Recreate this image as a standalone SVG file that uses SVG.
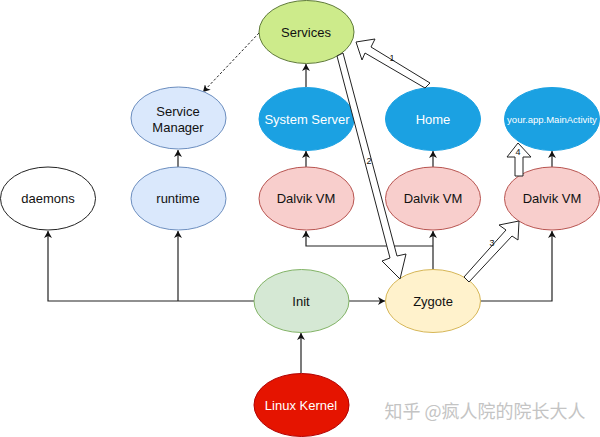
<svg xmlns="http://www.w3.org/2000/svg" width="600" height="437" viewBox="0 0 600 437">
<style>
text{font-family:"Liberation Sans",Arial,sans-serif;font-size:13px;text-anchor:middle;fill:#111}
.w{fill:#fff}
ellipse{stroke-width:1}
.l{fill:none;stroke:#222;stroke-width:1.2}
.b{fill:#fff;stroke:#222;stroke-width:1}
.n{font-size:9px}
.green{fill:#cdeb8b;stroke:#5f7a3a}
.blue{fill:#1ba1e2;stroke:#1ba1e2}
.pink{fill:#f8cecc;stroke:#b85450}
.sky{fill:#dae8fc;stroke:#6c8ebf}
</style>
<defs>
<marker id="a" markerUnits="userSpaceOnUse" markerWidth="8" markerHeight="8" refX="7" refY="4" orient="auto"><path d="M0 0L7 4L0 8L2 4Z" fill="#111"/></marker>
</defs>
<g id="connectors">
<path class="l" marker-end="url(#a)" d="M306 87V64"/>
<path class="l" marker-end="url(#a)" d="M306 167V151"/>
<path class="l" marker-end="url(#a)" d="M433 167V151"/>
<path class="l" marker-end="url(#a)" d="M552 167V151"/>
<path class="l" marker-end="url(#a)" d="M178 167V150"/>
<path class="l" marker-end="url(#a)" d="M254 301H48V231"/>
<path class="l" marker-end="url(#a)" d="M178 301V231"/>
<path class="l" marker-end="url(#a)" d="M349 301H385"/>
<path class="l" marker-end="url(#a)" d="M433 270V231"/>
<path class="l" marker-end="url(#a)" d="M433 246H306V231"/>
<path class="l" marker-end="url(#a)" d="M481 301H552V231"/>
<path class="l" marker-end="url(#a)" d="M301 373V333"/>
<path class="l" marker-end="url(#a)" style="stroke-width:1" stroke-dasharray="2.500 2" d="M259 33L203 92"/>
</g>
<g id="services"><ellipse class="green" cx="306.500" cy="32" rx="47.500" ry="31.500"/><text x="306" y="37">Services</text></g>
<g id="system-server"><ellipse class="blue" cx="306.500" cy="119" rx="47.500" ry="31.500"/><text class="w" x="307" y="124">System Server</text></g>
<g id="home"><ellipse class="blue" cx="433" cy="119" rx="47.500" ry="31.500"/><text class="w" x="433" y="124">Home</text></g>
<g id="main-activity"><ellipse class="blue" cx="552" cy="119" rx="47.500" ry="31.500"/><text class="w" x="552" y="123" style="font-size:9.500px">your.app.MainActivity</text></g>
<g id="service-manager"><ellipse class="sky" cx="178.500" cy="118" rx="47.500" ry="31"/><text x="178" y="116">Service</text><text x="178" y="132">Manager</text></g>
<g id="daemons"><ellipse fill="#fff" stroke="#222" cx="48" cy="198.500" rx="47.500" ry="31.500"/><text x="48" y="203">daemons</text></g>
<g id="runtime"><ellipse class="sky" cx="178.500" cy="198.500" rx="47.500" ry="31.500"/><text x="178" y="203">runtime</text></g>
<g id="dalvik-1"><ellipse class="pink" cx="306.500" cy="198.500" rx="47.500" ry="31.500"/><text x="306" y="203">Dalvik VM</text></g>
<g id="dalvik-2"><ellipse class="pink" cx="433" cy="198.500" rx="47.500" ry="31.500"/><text x="433" y="203">Dalvik VM</text></g>
<g id="dalvik-3"><ellipse class="pink" cx="552" cy="198.500" rx="47.500" ry="31.500"/><text x="552" y="203">Dalvik VM</text></g>
<g id="init"><ellipse fill="#d5e8d4" stroke="#82b366" cx="301.500" cy="301" rx="47.500" ry="31.500"/><text x="301" y="306">Init</text></g>
<g id="zygote"><ellipse fill="#fff2cc" stroke="#d6b656" cx="433" cy="301" rx="47.500" ry="31.500"/><text x="433" y="306">Zygote</text></g>
<g id="linux-kernel"><ellipse fill="#e51400" stroke="#b20000" cx="301.500" cy="405" rx="47.500" ry="31.500"/><text x="301" y="410" style="fill:#fff">Linux Kernel</text></g>
<g id="block-arrows">
<path class="b" d="M430 83L371 47L375 39L356 42L362 60L365 53L425 88Z"/>
<text class="n" x="392" y="61">1</text>
<path class="b" d="M337 56L390 258L382 261L400 279L406 254L397 256L343 53Z"/>
<text class="n" x="369" y="164">2</text>
<path class="b" d="M464 277L506 230L499 225L519 221L518 240L512 236L469 282Z"/>
<text class="n" x="492" y="246">3</text>
<path class="b" d="M515 176V157H507L518 143L531 157H523V176Z"/>
<text class="n" x="518" y="155">4</text>
</g>
<text x="485" y="418" style="font-family:'Noto Sans CJK SC',sans-serif;font-size:18px;fill:#c4c4c4">知乎 @疯人院的院长大人</text>
</svg>
